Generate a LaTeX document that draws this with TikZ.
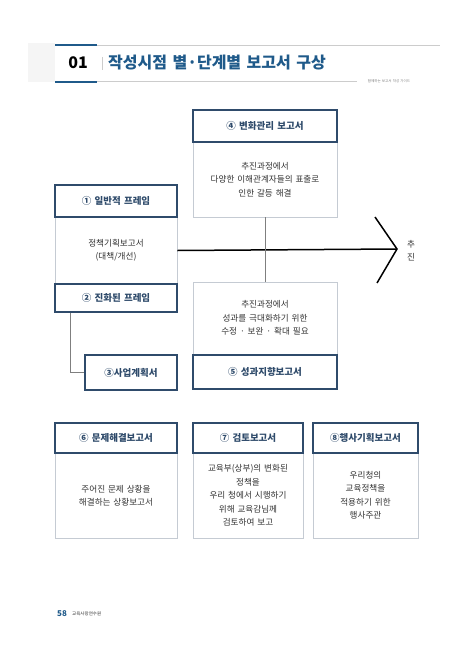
\documentclass[tikz,border=0pt]{standalone}
\usepackage{fontspec}
\setmainfont{Noto Sans CJK KR}[WordSpace=1.5]
\usetikzlibrary{positioning, backgrounds}

\definecolor{navy}{HTML}{2F4B6B}
\definecolor{titleblue}{HTML}{1F5A8A}
\definecolor{boxgray}{HTML}{C5CBD3}
\definecolor{linegray}{HTML}{7F7F7F}
\definecolor{textgray}{HTML}{333333}

\begin{document}
\begin{tikzpicture}[x=1pt, y=-1pt]
  \tikzstyle{headbox} = [rectangle, draw=navy, line width=1.3pt, fill=white, align=center, text=navy, font=\fontsize{9.5}{11}\selectfont\bfseries, inner sep=0pt]
  \tikzstyle{bodybox} = [rectangle, draw=boxgray, line width=0.8pt, fill=white, align=center, text=textgray, font=\fontsize{8.6}{13.5}\selectfont, inner sep=0pt]
  \tikzstyle{connector} = [line width=1.5pt, black]
  \tikzstyle{link} = [line width=0.8pt, linegray]

  \useasboundingbox[fill=white] (0,0) rectangle (474,661);

  % Page header
  \fill[gray!8] (28,43) rectangle (55,82);
  \draw[gray!40, line width=0.8pt] (97,45) -- (440,45);
  \draw[gray!40, line width=0.8pt] (97,81) -- (357,81);
  \draw[titleblue, line width=2.5pt] (55,45) -- (97,45);
  \draw[titleblue, line width=2.5pt] (55,82) -- (97,82);
  \draw[gray!40, line width=0.6pt] (102,57) -- (102,70);
  \node (num) at (78,63) [font=\fontsize{16}{16}\selectfont\bfseries, text=black] {01};
  \node (title) at (108,63) [anchor=west, inner sep=0pt, font=\fontsize{16}{16}\selectfont\bfseries, text=titleblue] {작성시점 별·단계별 보고서 구상};
  \node (guide) at (389,81) [font=\fontsize{3.5}{4}\selectfont, text=gray] {함께하는 보고서 작성 가이드};

  % Top: change management
  \node (body4) at (265,179.5) [bodybox, minimum width=144pt, minimum height=75pt] {추진과정에서\\다양한 이해관계자들의 표출로\\인한 갈등 해결};
  \node (head4) at (265,126) [headbox, minimum width=144pt, minimum height=32pt] {④ 변화관리 보고서};

  % Left side: frames
  \node (body1) at (116,250.5) [bodybox, minimum width=122pt, minimum height=67pt] {정책기획보고서\\(대책/개선)};
  \node (head1) at (116,201) [headbox, minimum width=122pt, minimum height=32pt] {① 일반적 프레임};
  \node (head2) at (116,298) [headbox, minimum width=122pt, minimum height=28pt] {② 진화된 프레임};
  \node (head3) at (131,372.5) [headbox, minimum width=92pt, minimum height=35pt] {③사업계획서};

  % Bottom of the axis: performance
  \node (body5) at (265,318) [bodybox, minimum width=144pt, minimum height=72pt] {추진과정에서\\성과를 극대화하기 위한\\수정 · 보완 · 확대 필요};
  \node (head5) at (265,372) [headbox, minimum width=144pt, minimum height=34pt] {⑤ 성과지향보고서};

  % Axis
  \coordinate (tip) at (397,249);
  \coordinate (armtop) at (375,217);
  \coordinate (armbot) at (377,283);
  \node (push) at (411,250.5) [font=\fontsize{8.6}{13.5}\selectfont, text=textgray, align=center] {추\\진};
  \draw[connector] (body1.east) -- (tip);
  \draw[connector, line join=miter] (armtop) -- (tip) -- (armbot);
  \draw[link] (body4.south) -- (body5.north);
  \draw[link] (head2.south -| 70,0) |- (head3.west);

  % Bottom row
  \node (body6) at (116,495.5) [bodybox, minimum width=122pt, minimum height=85pt] {주어진 문제 상황을\\해결하는 상황보고서};
  \node (head6) at (116,438) [headbox, minimum width=122pt, minimum height=30pt] {⑥ 문제해결보고서};
  \node (body7) at (248,495.5) [bodybox, minimum width=110pt, minimum height=85pt] {교육부(상부)의 변화된\\정책을\\우리 청에서 시행하기\\위해 교육감님께\\검토하여 보고};
  \node (head7) at (248,438) [headbox, minimum width=110pt, minimum height=30pt] {⑦ 검토보고서};
  \node (body8) at (365.5,495.5) [bodybox, minimum width=105pt, minimum height=85pt] {우리청의\\교육정책을\\적용하기 위한\\행사주관};
  \node (head8) at (365.5,438) [headbox, minimum width=105pt, minimum height=30pt] {⑧행사기획보고서};

  % Footer
  \node (page) at (62,614) [font=\fontsize{8}{8}\selectfont\bfseries, text=titleblue] {58};
  \node (org) at (72,614) [anchor=west, inner sep=0pt, font=\fontsize{4.5}{5}\selectfont, text=textgray] {교육사랑연수원};
\end{tikzpicture}
\end{document}
